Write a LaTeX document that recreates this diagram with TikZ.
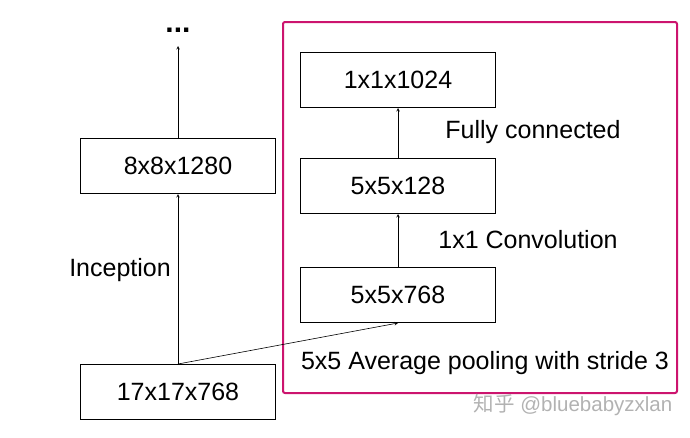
\documentclass[tikz,border=0pt]{standalone}
\usepackage{fontspec}
\setmainfont{Liberation Sans}
\newfontfamily\cjk{Noto Sans CJK SC}
\begin{document}
\begin{tikzpicture}[x=1pt,y=-1pt,
  box/.style={draw,line width=1pt,minimum width=195pt,minimum height=55pt,inner sep=0pt,font=\fontsize{25}{28}\selectfont},
  lbl/.style={font=\fontsize{25}{28}\selectfont},
  arr/.style={->,>=stealth,line width=0.6pt}]
\useasboundingbox (0,0) rectangle (690,437);
\definecolor{mag}{RGB}{204,20,110}
\draw[mag,line width=2pt,rounded corners=2pt] (283,22) rectangle (677,393);
\node[box] (a) at (178,392) {17x17x768};
\node[box] (b) at (178,166) {8x8x1280};
\node[box] (c) at (398,295) {5x5x768};
\node[box] (d) at (398,186) {5x5x128};
\node[box] (e) at (398,80) {1x1x1024};
\node[font=\bfseries\fontsize{30}{30}\selectfont] (dots) at (178,30) {...};
\coordinate (top) at (178,46);
\draw[arr] (a.north) -- (b.south);
\draw[arr] (b.north) -- (top);
\draw[arr] (a.north) -- (c.south);
\draw[arr] (c.north) -- (d.south);
\draw[arr] (d.north) -- (e.south);
\node[lbl] (l1) at (120,270) {Inception};
\node[lbl] (l2) at (528,240) {1x1 Convolution};
\node[lbl] (l3) at (533,132) {Fully connected};
\node[lbl] (l4) at (485,363) {5x5 Average pooling with stride 3};
\node[text=gray!60,font=\fontsize{20.5}{22}\selectfont] (w) at (573,405) {{\cjk 知乎} @bluebabyzxlan};
\end{tikzpicture}
\end{document}
